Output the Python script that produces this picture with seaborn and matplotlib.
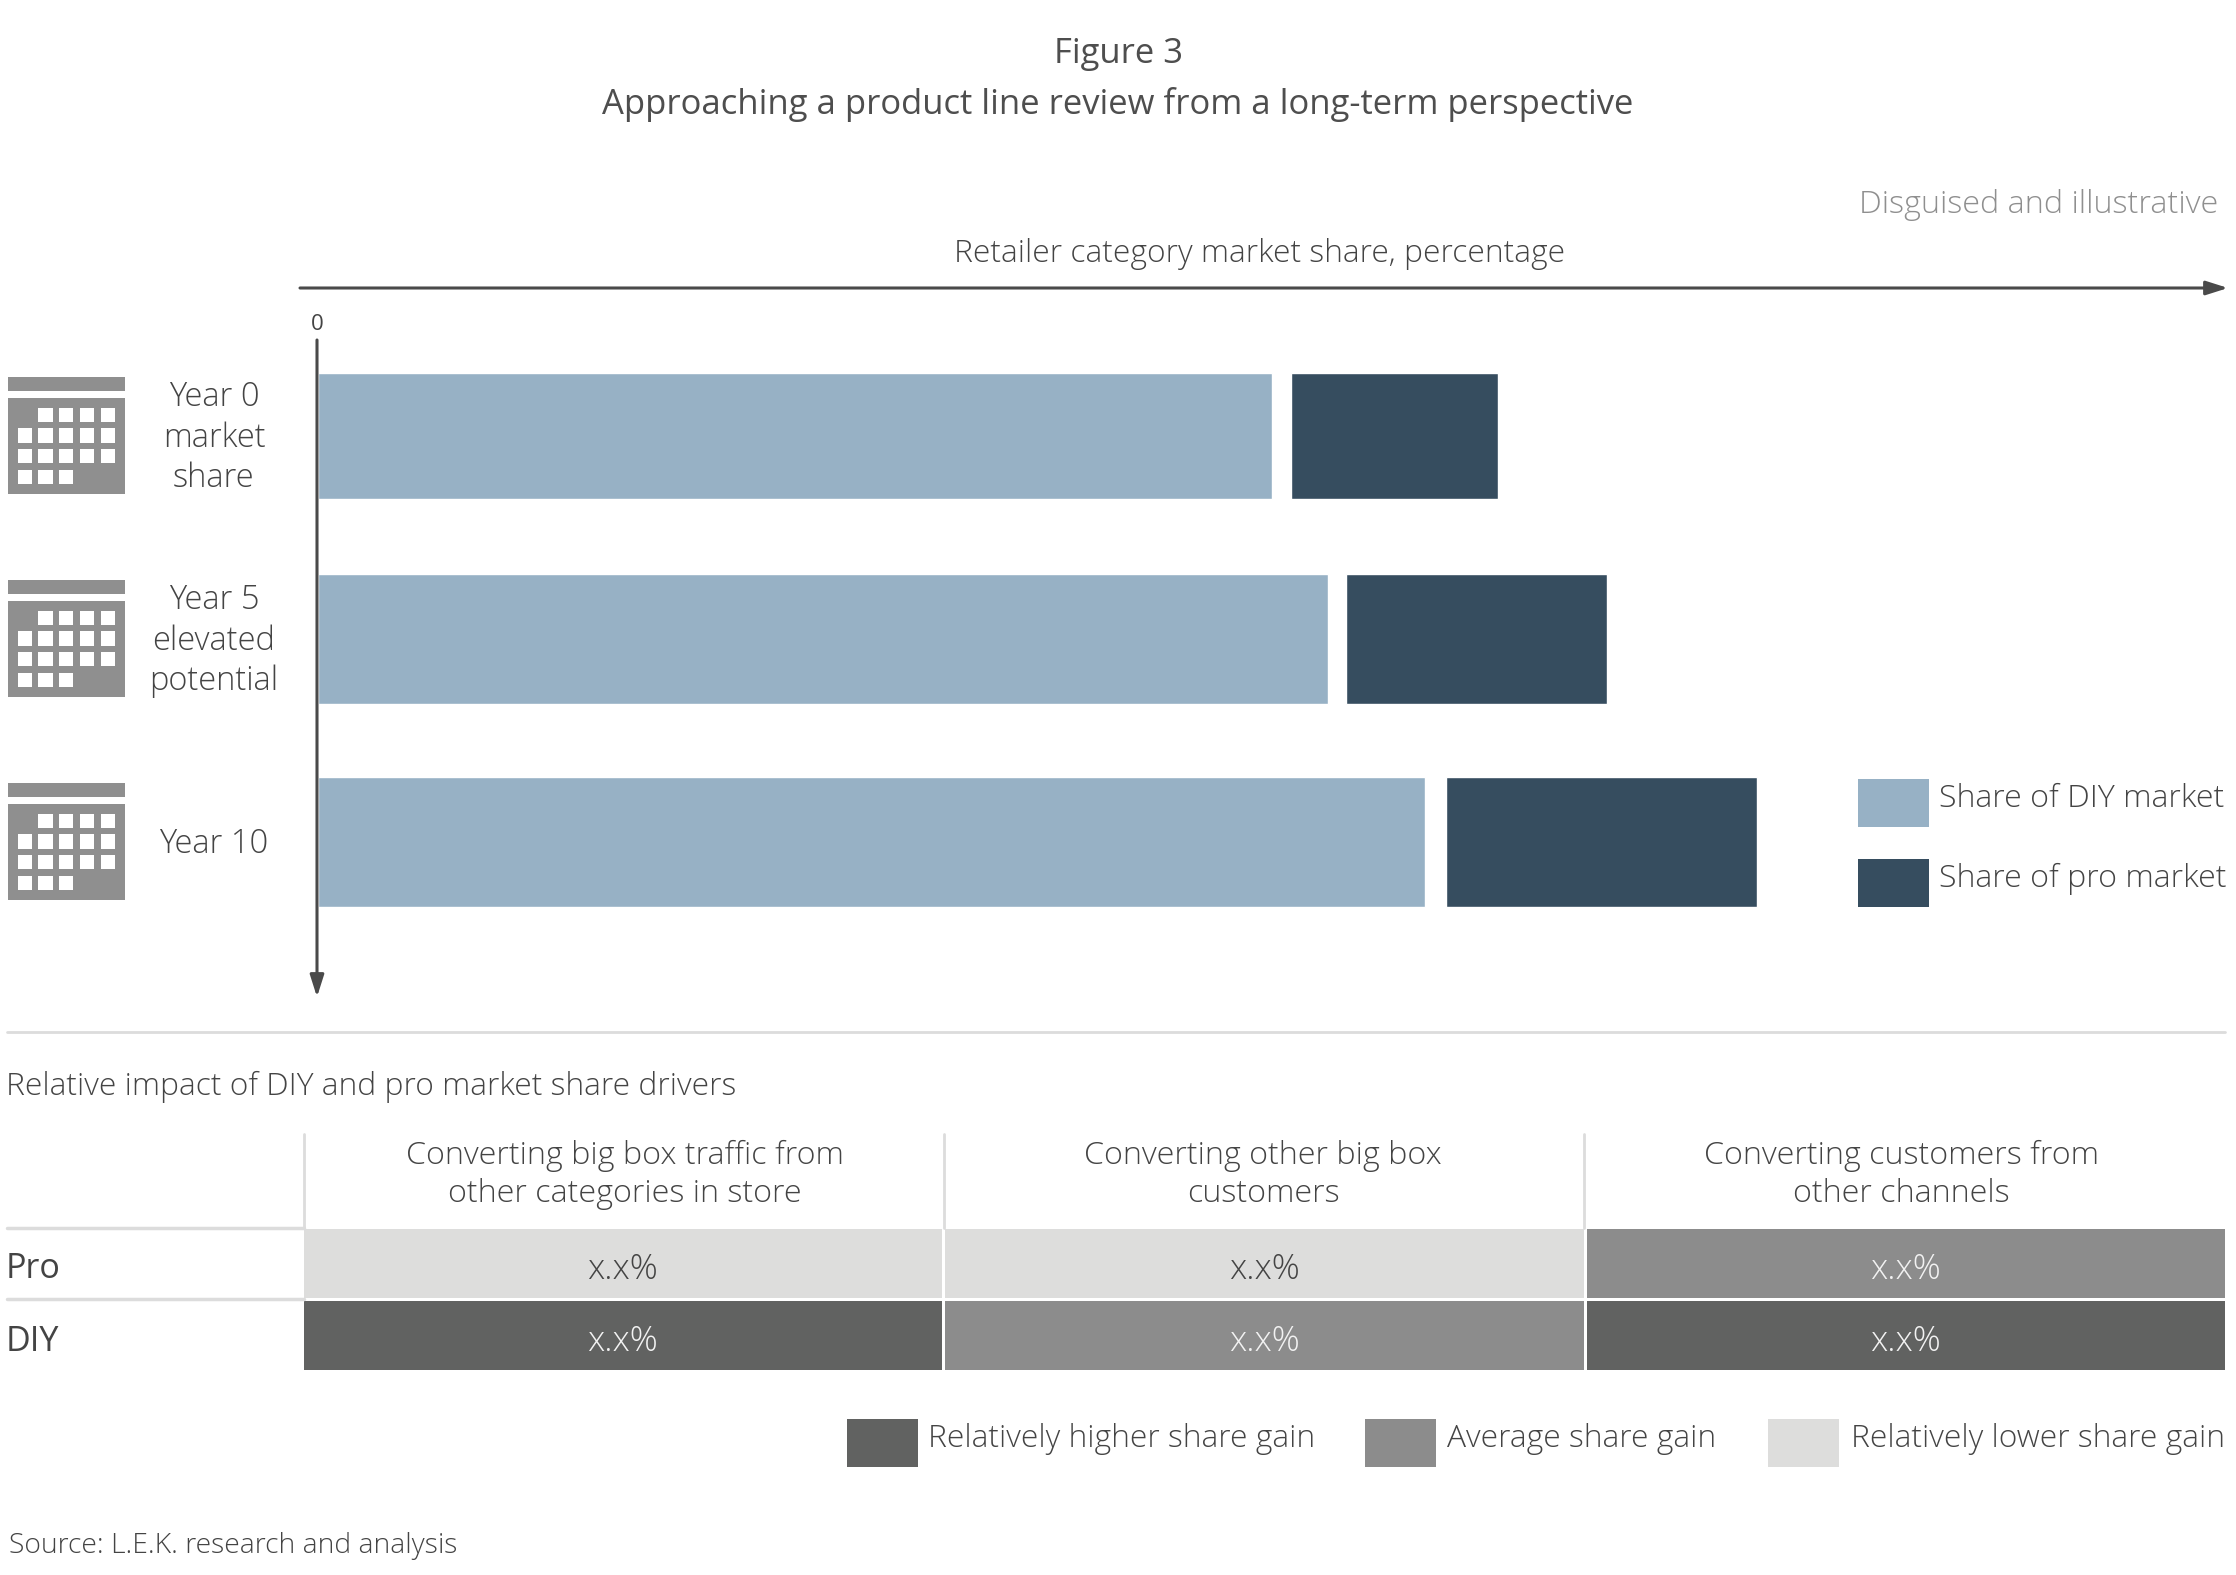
"""Figure 3: retailer market share bars plus the share driver table."""

import numpy as np
import pandas as pd
import matplotlib.pyplot as plt
from matplotlib.colors import ListedColormap
from matplotlib.patches import Rectangle
import seaborn as sns

# valores
anos = ["Year 0", "Year 5", "Year 10"]
rotulos_anos = ["Year 0\nmarket\nshare", "Year 5\nelevated\npotential", "Year 10"]
share_diy = [66.7, 70.6, 77.4]
share_pro = [14.5, 18.2, 21.7]
folga = [1.3, 1.3, 1.5]

drivers = [
    "Converting big box traffic from\nother categories in store",
    "Converting other big box\ncustomers",
    "Converting customers from\nother channels",
]
linhas = ["Pro", "DIY"]
nivel = [[0, 0, 1], [2, 1, 2]]  # 0 menor, 1 medio, 2 maior
celulas = [["x.x%", "x.x%", "x.x%"], ["x.x%", "x.x%", "x.x%"]]
nomes_nivel = ["Relatively higher share gain", "Average share gain", "Relatively lower share gain"]

W, H = 2236, 1575
AZUL = "#97b1c5"
NAVY = "#364d5f"
TEXTO = "#444444"
CINZAS = ["#dddddc", "#8c8c8c", "#616261"]
ICONE = "#8f8f8f"

sns.set_theme(style="white")
plt.rcParams["font.family"] = ["Open Sans", "DejaVu Sans"]
plt.rcParams["font.weight"] = "light"
plt.rcParams["text.color"] = TEXTO

fig = plt.figure(figsize=(W / 100, H / 100), dpi=100, facecolor="white")


def eixo_px(x0, y0, x1, y1):
    return fig.add_axes([x0 / W, 1 - y1 / H, (x1 - x0) / W, (y1 - y0) / H])


# ------------------------------------------------------------------ #
# Barras
# ------------------------------------------------------------------ #
ax = eixo_px(318, 334.5, 2236, 943.5)
df = pd.DataFrame({"ano": anos, "diy": share_diy, "pro": share_pro})
inicio_pro = np.array(share_diy) + np.array(folga)
sns.barplot(data=df, y="ano", x="diy", color=AZUL, width=0.64, saturation=1, ax=ax)
sns.barplot(data=df, y="ano", x="pro", left=inicio_pro, color=NAVY, width=0.64, saturation=1, ax=ax)
ax.set_xlim(0, 134.1)
ax.set_ylim(2.5, -0.5)
ax.axis("off")
# a primeira barra e um pouco mais baixa na figura
for p in ax.patches:
    if p.get_y() < 0:
        p.set_y(-0.31)
        p.set_height(0.62)

# ------------------------------------------------------------------ #
# Tabela
# ------------------------------------------------------------------ #
ax_t = eixo_px(302, 1227, 2226, 1371)
sns.heatmap(
    np.array(nivel), annot=np.array(celulas), fmt="", cmap=ListedColormap(CINZAS),
    vmin=-0.5, vmax=2.5, cbar=False, linewidths=2, linecolor="white",
    xticklabels=False, yticklabels=False, ax=ax_t,
    annot_kws={"fontsize": 25},
)
for t, n in zip(ax_t.texts, np.array(nivel).ravel()):
    t.set_color(TEXTO if n == 0 else "#f2f2f2")
    tx, ty = t.get_position()
    t.set_position((tx, ty + 0.09))

# ------------------------------------------------------------------ #
# Camada de anotacoes, em pixels
# ------------------------------------------------------------------ #
ov = fig.add_axes([0, 0, 1, 1], facecolor="none", zorder=5)
ov.set_xlim(0, W)
ov.set_ylim(H, 0)
ov.axis("off")


def texto(x, y, s, size=23, ha="left", color=TEXTO, **kw):
    ov.text(x, y, s, fontsize=size, ha=ha, va="center", color=color, linespacing=1.27, **kw)


def seta(x0, y0, x1, y1):
    ov.annotate(
        "", xy=(x1, y1), xytext=(x0, y0),
        arrowprops=dict(arrowstyle="-|>,head_length=1.1,head_width=0.35", color="#4a4a4a",
                        lw=2.2, shrinkA=0, shrinkB=0),
    )


def calendario(dy):
    ov.add_patch(Rectangle((8, 377 + dy), 117, 14, color=ICONE, lw=0))
    ov.add_patch(Rectangle((8, 398 + dy), 117, 96, color=ICONE, lw=0))
    colunas = [(1, 5), (0, 5), (0, 5), (0, 3)]
    for i, (c0, c1) in enumerate(colunas):
        for c in range(c0, c1):
            ov.add_patch(Rectangle((17.7 + c * 20.7, 407.7 + i * 20.7 + dy), 14.3, 14.3, color="white", lw=0))


texto(1118, 54, "Figure 3", size=24.9, ha="center", fontweight="normal", alpha=0.95)
texto(1118, 105, "Approaching a product line review from a long-term perspective", size=24.9, ha="center", fontweight="normal", alpha=0.95)
texto(2218, 205, "Disguised and illustrative", size=23.3, ha="right", color="#8f8f8f")
texto(1260, 254, "Retailer category market share, percentage", size=22.9, ha="center")
seta(300, 288, 2228, 288)
seta(317, 340, 317, 997)
texto(317, 324, "0", size=16, ha="center", fontweight="normal")

for i, rotulo in enumerate(rotulos_anos):
    calendario(203 * i)
    texto(214, 438 + 203 * i, rotulo, size=23.5, ha="center")

# legenda das barras
for y, cor, nome in [(779, AZUL, "Share of DIY market"), (859, NAVY, "Share of pro market")]:
    ov.add_patch(Rectangle((1858, y), 71, 48, color=cor, lw=0))
    texto(1939, y + 20, nome, size=23.1)

ov.plot([7, 2225], [1032, 1032], color="#dcdcdc", lw=2)
texto(6, 1087, "Relative impact of DIY and pro market share drivers", size=22.9)

for x, d in zip([625, 1263, 1901], drivers):
    texto(x, 1175, d, size=23.2, ha="center")
for x in [304, 944, 1584]:
    ov.plot([x, x], [1134, 1228], color="#dcdcdc", lw=2)
for y in [1228, 1299]:
    ov.plot([7, 304], [y, y], color="#dcdcdc", lw=2.5)
for y, nome in zip([1269, 1342], linhas):
    texto(6, y, nome, size=24.5, fontweight="normal")

# legenda da tabela
for x0, xt, cor, nome in zip([847, 1365, 1768], [928, 1447, 1851], CINZAS[::-1], nomes_nivel):
    ov.add_patch(Rectangle((x0, 1419), 71, 48, color=cor, lw=0))
    texto(xt, 1439, nome, size=22.9)

texto(9, 1546, "Source: L.E.K. research and analysis", size=20.3)

fig.savefig("out.png", dpi=100)
